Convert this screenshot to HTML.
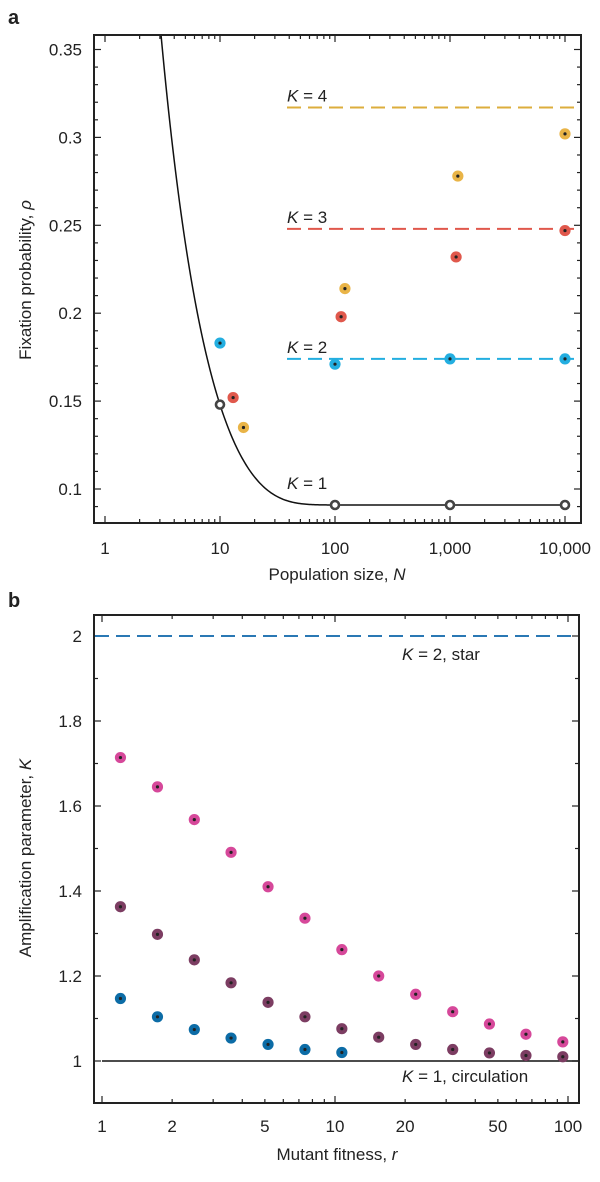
<!DOCTYPE html>
<html><head><meta charset="utf-8"><style>
body{margin:0;background:#fff;}
svg text{font-family:"Liberation Sans",Arial,sans-serif;fill:#222;}
</style></head><body>
<svg id="fig" width="600" height="1177" viewBox="0 0 600 1177" xmlns="http://www.w3.org/2000/svg"></svg>
<script>
// ---- Panel a data ----
const aK2N=[10,100,1000,10000];
const aK2Rho=[0.183,0.171,0.174,0.174];
const aK3N=[13,113,1130,10000];
const aK3Rho=[0.152,0.198,0.232,0.247];
const aK4N=[16,122,1170,10000];
const aK4Rho=[0.135,0.214,0.278,0.302];
const aK1N=[10,100,1000,10000];
const aK1Rho=[0.148,0.0909,0.0909,0.0909];
const aTheoryK=[4,3,2];
const aTheoryRho=[0.317,0.248,0.174];
const aXTicks=[1,10,100,1000,10000];
const aXTickLabels=["1","10","100","1,000","10,000"];
const aYTicks=[0.1,0.15,0.2,0.25,0.3,0.35];
const aYTickLabels=["0.1","0.15","0.2","0.25","0.3","0.35"];
const fitnessR=1.1;
// ---- Panel b data ----
const bR=[1.2,1.73,2.49,3.58,5.16,7.43,10.7,15.4,22.2,32,46,66,95];
const bPink=[1.714,1.645,1.568,1.491,1.41,1.336,1.262,1.2,1.157,1.116,1.087,1.063,1.045];
const bPurple=[1.363,1.298,1.238,1.184,1.138,1.104,1.076,1.056,1.039,1.027,1.019,1.013,1.010];
const bBlue=[1.147,1.104,1.074,1.054,1.039,1.027,1.02];
const bXTicks=[1,2,5,10,20,50,100];
const bXTickLabels=["1","2","5","10","20","50","100"];
const bYTicks=[1,1.2,1.4,1.6,1.8,2];
const bYTickLabels=["1","1.2","1.4","1.6","1.8","2"];

const svg=document.getElementById('fig');
const NS="http://www.w3.org/2000/svg";
function mk(tag,attrs,parent){const e=document.createElementNS(NS,tag);for(const k in attrs)e.setAttribute(k,attrs[k]);(parent||svg).appendChild(e);return e;}

const axA=v=>105+115*Math.log10(v);
const ayA=v=>489-(v-0.1)*1758;
const axB=v=>102+233*Math.log10(v);
const ayB=v=>1061-(v-1)*425;

function frame(x0,y0,x1,y1,name){
  const r=mk('rect',{x:x0,y:y0,width:x1-x0,height:y1-y0,fill:'none',stroke:'#222','stroke-width':2});
  
  
}
function logTicks(ax,dmin,dmax,y0,y1,x0,x1){
  for(let d=dmin;d<=dmax;d++){for(let m=1;m<10;m++){const v=m*Math.pow(10,d);const x=ax(v);if(x<x0+2||x>x1-2)continue;const L=m==1?7:4;
    mk('line',{x1:x,x2:x,y1:y1,y2:y1-L,stroke:'#222','stroke-width':1.2});
    mk('line',{x1:x,x2:x,y1:y0,y2:y0+L,stroke:'#222','stroke-width':1.2});}}
}
function linTicks(ay,vmin,vmax,step,major,x0,x1,y0,y1){
  const n=Math.round((vmax-vmin)/step);
  for(let i=0;i<=n;i++){const v=vmin+i*step;const y=ay(v);if(y<y0+2||y>y1-2)continue;const isM=major.some(m=>Math.abs(m-v)<1e-6);const L=isM?7:4;
    mk('line',{x1:x0,x2:x0+L,y1:y,y2:y,stroke:'#222','stroke-width':1.2});
    mk('line',{x1:x1,x2:x1-L,y1:y,y2:y,stroke:'#222','stroke-width':1.2});}
}
function txt(x,y,s,opts,name){const t=mk('text',Object.assign({x:x,y:y,'font-size':17},opts||{}));t.innerHTML=s;return t;}
function dot(x,y,c,name){const g=mk('g',{});
  mk('circle',{cx:x,cy:y,r:5.6,fill:c},g);mk('circle',{cx:x,cy:y,r:1.6,fill:'#222'},g);}

// ===== Panel a =====
txt(8,24,'a',{'font-size':20,'font-weight':'bold'},'panel-a-label');
const clipA=mk('clipPath',{id:'ca'});mk('rect',{x:94,y:35,width:487,height:488},clipA);
logTicks(axA,0,4,35,523,94,581);
linTicks(ayA,0.09,0.36,0.01,aYTicks,94,581,35,523);
aYTicks.forEach((v,i)=>txt(82,ayA(v)+6,aYTickLabels[i],{'text-anchor':'end'},'y-tick-label-a'));
aXTicks.forEach((v,i)=>txt(axA(v),554,aXTickLabels[i],{'text-anchor':'middle'},'x-tick-label-a'));
txt(337,580,'Population size, <tspan font-style="italic">N</tspan>',{'text-anchor':'middle'},'x-axis-title-a');
txt(0,0,'Fixation probability, <tspan font-style="italic">ρ</tspan>',{'text-anchor':'middle',transform:'translate(31,280) rotate(-90)'},'y-axis-title-a');
const thColors=['#dcae3c','#e0584c','#23aee0'];
aTheoryK.forEach((k,i)=>{const y=ayA(aTheoryRho[i]);
  const l=mk('line',{x1:287,x2:581,y1:y,y2:y,stroke:thColors[i],'stroke-width':2,'stroke-dasharray':'14,7'});
  
  txt(287,y-6,'<tspan font-style="italic">K</tspan> = '+k,{},'theory-label-k'+k);});
let d='';for(let i=0;i<=300;i++){const N=Math.pow(10,Math.log10(2.5)+i*(4-Math.log10(2.5))/300);const rho=(1-1/fitnessR)/(1-Math.pow(fitnessR,-N));d+=(i?'L':'M')+axA(N).toFixed(2)+','+ayA(rho).toFixed(2);}
const cp=mk('path',{d:d,fill:'none',stroke:'#111','stroke-width':1.5,'clip-path':'url(#ca)'});

txt(287,489,'<tspan font-style="italic">K</tspan> = 1',{},'theory-label-k1');
aK1N.forEach((n,i)=>{const c=mk('circle',{cx:axA(n),cy:ayA(aK1Rho[i]),r:4,fill:'#fff',stroke:'#444','stroke-width':2.6});});
aK2N.forEach((n,i)=>dot(axA(n),ayA(aK2Rho[i]),'#23aee0','k2-point'));
aK3N.forEach((n,i)=>dot(axA(n),ayA(aK3Rho[i]),'#e0584c','k3-point'));
aK4N.forEach((n,i)=>dot(axA(n),ayA(aK4Rho[i]),'#e9b447','k4-point'));
frame(94,35,581,523,'plot-frame-a');

// ===== Panel b =====
txt(8,607,'b',{'font-size':20,'font-weight':'bold'},'panel-b-label');
logTicks(axB,0,2,615,1103,94,579);
linTicks(ayB,0.9,2.1,0.1,bYTicks,94,579,615,1103);
bYTicks.forEach((v,i)=>txt(82,ayB(v)+6,bYTickLabels[i],{'text-anchor':'end'},'y-tick-label-b'));
bXTicks.forEach((v,i)=>txt(axB(v),1132,bXTickLabels[i],{'text-anchor':'middle'},'x-tick-label-b'));
txt(337,1160,'Mutant fitness, <tspan font-style="italic">r</tspan>',{'text-anchor':'middle'},'x-axis-title-b');
txt(0,0,'Amplification parameter, <tspan font-style="italic">K</tspan>',{'text-anchor':'middle',transform:'translate(31,858) rotate(-90)'},'y-axis-title-b');
const sl=mk('line',{x1:95,x2:579,y1:ayB(2),y2:ayB(2),stroke:'#2a78b4','stroke-width':2,'stroke-dasharray':'14,7'});

txt(402,ayB(2)+24,'<tspan font-style="italic">K</tspan> = 2, star',{},'star-label');
const cl=mk('line',{x1:axB(1),x2:579,y1:ayB(1),y2:ayB(1),stroke:'#111','stroke-width':1.5});

txt(402,ayB(1)+21,'<tspan font-style="italic">K</tspan> = 1, circulation',{},'circulation-label');
bR.forEach((r,i)=>dot(axB(r),ayB(bPink[i]),'#d6489a','pink-point'));
bR.forEach((r,i)=>dot(axB(r),ayB(bPurple[i]),'#7c3d62','purple-point'));
bBlue.forEach((v,i)=>dot(axB(bR[i]),ayB(v),'#0c6ca6','blue-point'));
frame(94,615,579,1103,'plot-frame-b');
</script>
</body></html>
